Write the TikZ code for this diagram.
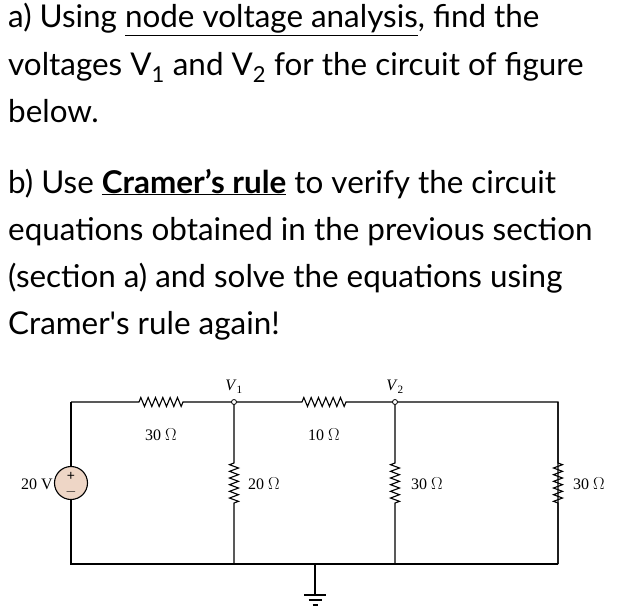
\documentclass[tikz,border=0pt]{standalone}
\usepackage{fontspec}
\setmainfont{Lato}
\newfontfamily\ckt{Liberation Serif}
\definecolor{srcfill}{RGB}{238,214,198}
\begin{document}
\begin{tikzpicture}[x=1pt,y=-1pt,
  txt/.style={anchor=base west,inner sep=0pt,font=\fontsize{31.4}{36}\selectfont},
  lbl/.style={inner sep=1pt,font=\ckt\fontsize{16}{18}\selectfont},
  wire/.style={line width=1.1pt},
  dot/.style={circle,draw,fill=white,inner sep=0pt,minimum size=5pt,line width=0.8pt}]
\useasboundingbox[fill=white] (0,0) rectangle (621,610);
% text
\node[txt] (t1) at (8,28) {a) Using \underline{node voltage analysis}, find the};
\node[txt] (t2) at (8,75) {voltages V\textsubscript{1} and V\textsubscript{2} for the circuit of figure};
\node[txt] (t3) at (8,122) {below.};
\node[txt] (t4) at (8,193) {b) Use \underline{\textbf{Cramer’s rule}} to verify the circuit};
\node[txt] (t5) at (8,240) {equations obtained in the previous section};
\node[txt] (t6) at (8,287) {(section a) and solve the equations using};
\node[txt] (t7) at (8,334) {Cramer\textquotesingle s rule again!};
% circuit coordinates
\coordinate (TL) at (71,402); \coordinate (BL) at (71,564);
\coordinate (V1) at (234,402); \coordinate (V2) at (395,402);
\coordinate (v1b) at (234,564); \coordinate (v2b) at (395,564);
\coordinate (TR) at (558,402); \coordinate (BR) at (558,564);
\coordinate (G) at (315,564); \coordinate (Gb) at (315,595);
% horizontal resistors
\coordinate (ra1) at (139,402); \coordinate (ra2) at (183,402);
\coordinate (rb1) at (302,402); \coordinate (rb2) at (346,402);
\draw[wire,line join=miter] (TL) -- (ra1) \foreach \i in {1,...,6}{ -- ++(1.83,-4.5) -- ++(3.67,9) -- ++(1.83,-4.5) } -- (ra2) -- (V1) -- (rb1)
  \foreach \i in {1,...,6}{ -- ++(1.83,-4.5) -- ++(3.67,9) -- ++(1.83,-4.5) } -- (rb2) -- (V2) -- (TR) -- (BR) ;
\draw[wire] (TR) -- (558,463) \foreach \i in {1,...,6}{ -- ++(4.5,1.67) -- ++(-9,3.33) -- ++(4.5,1.67)} -- (BR);
\draw[wire] (V1) -- (234,463) \foreach \i in {1,...,6}{ -- ++(-4.5,1.67) -- ++(9,3.33) -- ++(-4.5,1.67)} -- (v1b);
\draw[wire] (V2) -- (395,463) \foreach \i in {1,...,6}{ -- ++(-4.5,1.67) -- ++(9,3.33) -- ++(-4.5,1.67)} -- (v2b);
\draw[wire] (TL) -- (BL) -- (BR);
\draw[wire] (G) -- (Gb);
\draw[wire] (304,595) -- (326,595) (308.5,600) -- (321.5,600) (312.5,605) -- (317.5,605);
% source
\node[circle,draw,fill=srcfill,line width=1.1pt,minimum size=33pt,inner sep=0pt] (src) at (71,483) {};
\node[font=\fontsize{14}{14}\selectfont,inner sep=0pt] at (71,476) {+};
\node[font=\fontsize{14}{14}\selectfont,inner sep=0pt] at (71,492) {$-$};
\node[dot] (n1) at (V1) {};
\node[dot] (n2) at (V2) {};
% labels
\node[lbl] at (234,387) {\textit{V}\textsubscript{1}};
\node[lbl] at (395,387) {\textit{V}\textsubscript{2}};
\node[lbl] at (161,435) {30 \(\Omega\)};
\node[lbl] at (324,435) {10 \(\Omega\)};
\node[lbl,anchor=east] at (54,484) {20 V};
\node[lbl,anchor=west] at (247,484) {20 \(\Omega\)};
\node[lbl,anchor=west] at (410,484) {30 \(\Omega\)};
\node[lbl,anchor=west] at (572,484) {30 \(\Omega\)};
\end{tikzpicture}
\end{document}
